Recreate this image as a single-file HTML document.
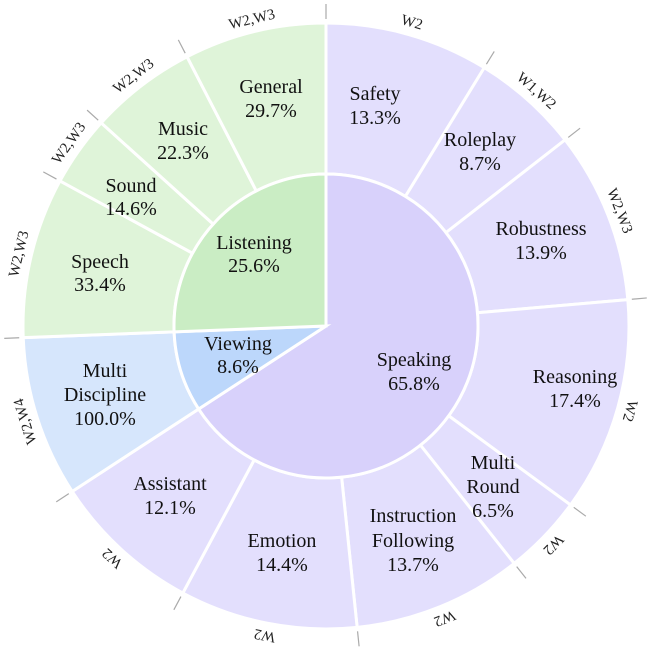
<!DOCTYPE html>
<html><head><meta charset="utf-8"><style>
html,body{margin:0;padding:0;background:#fff;}
svg{display:block;}
.sf{font-family:"Liberation Serif","Times New Roman",Times,"DejaVu Serif","Noto Serif CJK SC",serif;}
</style></head><body>
<svg id="s" width="652" height="651" viewBox="0 0 652 651">
<g id="wedges"></g>
<g id="ticks" stroke="#aaa" stroke-width="1.2"></g>
<g class="sf" font-size="20" text-anchor="middle" fill="#111">
<text x="375" y="100">Safety</text><text x="375" y="124">13.3%</text>
<text x="480" y="146">Roleplay</text><text x="480" y="170">8.7%</text>
<text x="541" y="235">Robustness</text><text x="541" y="259">13.9%</text>
<text x="575" y="383">Reasoning</text><text x="575" y="407">17.4%</text>
<text x="493" y="469">Multi</text><text x="493" y="493">Round</text><text x="493" y="517">6.5%</text>
<text x="413" y="522">Instruction</text><text x="413" y="547">Following</text><text x="413" y="571">13.7%</text>
<text x="282" y="547">Emotion</text><text x="282" y="571">14.4%</text>
<text x="170" y="490">Assistant</text><text x="170" y="514">12.1%</text>
<text x="105" y="377">Multi</text><text x="105" y="401">Discipline</text><text x="105" y="425">100.0%</text>
<text x="100" y="268">Speech</text><text x="100" y="291">33.4%</text>
<text x="131" y="192">Sound</text><text x="131" y="215">14.6%</text>
<text x="183" y="135">Music</text><text x="183" y="159">22.3%</text>
<text x="271" y="93">General</text><text x="271" y="117">29.7%</text>
<text x="254" y="249">Listening</text><text x="254" y="272">25.6%</text>
<text x="238" y="350">Viewing</text><text x="238" y="373">8.6%</text>
<text x="414" y="366">Speaking</text><text x="414" y="390">65.8%</text>
</g>
<g class="sf" font-size="15" text-anchor="middle" fill="#222">
<text x="326" y="15" transform="rotate(15.8 326 326)">W2</text>
<text x="326" y="15" transform="rotate(41.8 326 326)">W1,W2</text>
<text x="326" y="15" transform="rotate(68.6 326 326)">W2,W3</text>
<text x="326" y="15" transform="rotate(105.6 326 326)">W2</text>
<text x="326" y="15" transform="rotate(133.9 326 326)">W2</text>
<text x="326" y="15" transform="rotate(157.9 326 326)">W2</text>
<text x="326" y="15" transform="rotate(191.2 326 326)">W2</text>
<text x="326" y="15" transform="rotate(222.6 326 326)">W2</text>
<text x="326" y="15" transform="rotate(252.4 326 326)">W2,W4</text>
<text x="326" y="15" transform="rotate(283.2 326 326)">W2,W3</text>
<text x="326" y="15" transform="rotate(305.4 326 326)">W2,W3</text>
<text x="326" y="15" transform="rotate(322.4 326 326)">W2,W3</text>
<text x="326" y="15" transform="rotate(346.4 326 326)">W2,W3</text>
</g>
</svg>
<script>
(function(){
var cx=326,cy=326,r0=152,R=303;
function pt(r,a){a=a*Math.PI/180;return [cx+r*Math.sin(a),cy-r*Math.cos(a)];}
function arc(ri,ro,a0,a1,fill){
 var p1=pt(ro,a0),p2=pt(ro,a1),p3=pt(ri,a1),p4=pt(ri,a0),lg=(a1-a0)>180?1:0,d;
 if(ri===0) d='M'+cx+','+cy+' L'+p1+' A'+ro+','+ro+' 0 '+lg+' 1 '+p2+' Z';
 else d='M'+p1+' A'+ro+','+ro+' 0 '+lg+' 1 '+p2+' L'+p3+' A'+ri+','+ri+' 0 '+lg+' 0 '+p4+' Z';
 return '<path d="'+d+'" fill="'+fill+'" stroke="#fff" stroke-width="3"/>';
}
var h='';
h+='<circle cx="326" cy="326" r="303.5" fill="none" stroke="#ccc" stroke-width="1"/>';
var sp=236.9,vi=267.8;
var outer=[[0,31.5,'#e3dffd'],[31.5,52.1,'#e3dffd'],[52.1,85.0,'#e3dffd'],[85.0,126.2,'#e3dffd'],[126.2,141.6,'#e3dffd'],[141.6,174.1,'#e3dffd'],[174.1,208.2,'#e3dffd'],[208.2,236.9,'#e3dffd'],[236.9,267.8,'#d6e6fc'],[267.8,298.6,'#dff4d9'],[298.6,312.1,'#dff4d9'],[312.1,332.7,'#dff4d9'],[332.7,360,'#dff4d9']];
outer.forEach(function(o){h+=arc(r0,R,o[0],o[1],o[2]);});
h+=arc(0,r0,0,sp,'#d8d1fb');h+=arc(0,r0,sp,vi,'#bcd7fb');h+=arc(0,r0,vi,360,'#caedc4');
document.getElementById('wedges').innerHTML=h;
var t='';
outer.forEach(function(o){var a=pt(307,o[0]),b=pt(322,o[0]);t+='<line x1="'+a[0]+'" y1="'+a[1]+'" x2="'+b[0]+'" y2="'+b[1]+'"/>';});
document.getElementById('ticks').innerHTML=t;
})();
</script>
</body></html>
